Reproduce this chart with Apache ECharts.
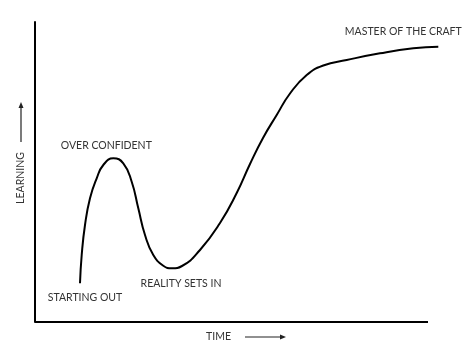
<!DOCTYPE html>
<html><head><meta charset="utf-8">
<script src="https://cdn.jsdelivr.net/npm/echarts@6/dist/echarts.min.js"></script>
<style>html,body{margin:0;padding:0;background:#fff}#c{width:474px;height:355px}</style>
</head><body><div id="c"></div>
<script>
// Time (x) and learning (y) values
const timeValues = [45, 46.7, 50, 55, 61.7, 68.3, 78.3, 88.3, 96.7, 103.3, 110, 118.3, 128.3, 137, 147, 165, 185, 201.7, 215, 228, 241.7, 255, 271.7, 288.3, 311.7, 345, 378.3, 403.3];
const learningValues = [38.7, 67, 97, 123.7, 143.7, 157, 163.7, 158.7, 140.3, 113.7, 87, 67, 56.3, 53.7, 56, 72, 99, 129, 158, 184, 207, 228.5, 247, 256.5, 262, 268.7, 273.7, 275.3];
const stageNames = ['STARTING OUT', 'OVER CONFIDENT', 'REALITY SETS IN', 'MASTER OF THE CRAFT'];
const stageIndex = [0, 6, 13, 27];
const axisTitles = ['TIME', 'LEARNING'];
const timeAxisEnd = 393;

const font = 'Lato, "Open Sans", sans-serif';
const txt = '#333';
const offsets = [[5, 14], [-7, -13], [9, 15], [-35, -15]];

const chart = echarts.init(document.getElementById('c'));
chart.setOption({
  animation: false,
  grid: { left: 35, right: 34, top: 22, bottom: 33 },
  xAxis: {
    type: 'value', min: 0, max: 405,
    axisLine: { show: false },
    axisTick: { show: false }, axisLabel: { show: false }, splitLine: { show: false }
  },
  yAxis: {
    type: 'value', min: 0, max: 300,
    axisLine: { show: true, lineStyle: { color: '#000', width: 2 } },
    axisTick: { show: false }, axisLabel: { show: false }, splitLine: { show: false }
  },
  series: [{
    type: 'line',
    smooth: 0.5,
    clip: false,
    symbol: 'none',
    lineStyle: { color: '#000', width: 2 },
    data: timeValues.map((t, i) => [t, learningValues[i]]),
    markLine: {
      silent: true, symbol: 'none', label: { show: false },
      lineStyle: { color: '#000', width: 2, type: 'solid' },
      data: [[{ coord: [0, 0] }, { coord: [timeAxisEnd, 0] }]]
    },
    markPoint: {
      symbol: 'circle', symbolSize: 0,
      data: stageNames.map((n, k) => ({
        name: n,
        coord: [timeValues[stageIndex[k]], learningValues[stageIndex[k]]],
        label: {
          show: true, formatter: n, position: 'inside',
          offset: offsets[k],
          color: txt, fontFamily: font, fontSize: 10.5
        }
      }))
    }
  }],
  graphic: [
    { type: 'text', left: 206, top: 331, style: { text: axisTitles[0], fill: txt, font: '10.5px ' + font } },
    { type: 'line', shape: { x1: 245, y1: 337, x2: 282, y2: 337 }, style: { stroke: '#222', lineWidth: 1.2 } },
    { type: 'polygon', shape: { points: [[280, 334.5], [286, 337], [280, 339.5]] }, style: { fill: '#222' } },
    { type: 'text', x: 21, y: 178, rotation: Math.PI / 2, style: { text: axisTitles[1], fill: txt, font: '10.5px ' + font, align: 'center', verticalAlign: 'middle' } },
    { type: 'line', shape: { x1: 21, y1: 142, x2: 21, y2: 106 }, style: { stroke: '#222', lineWidth: 1.2 } },
    { type: 'polygon', shape: { points: [[18.5, 108], [21, 102], [23.5, 108]] }, style: { fill: '#222' } }
  ]
});
</script></body></html>
